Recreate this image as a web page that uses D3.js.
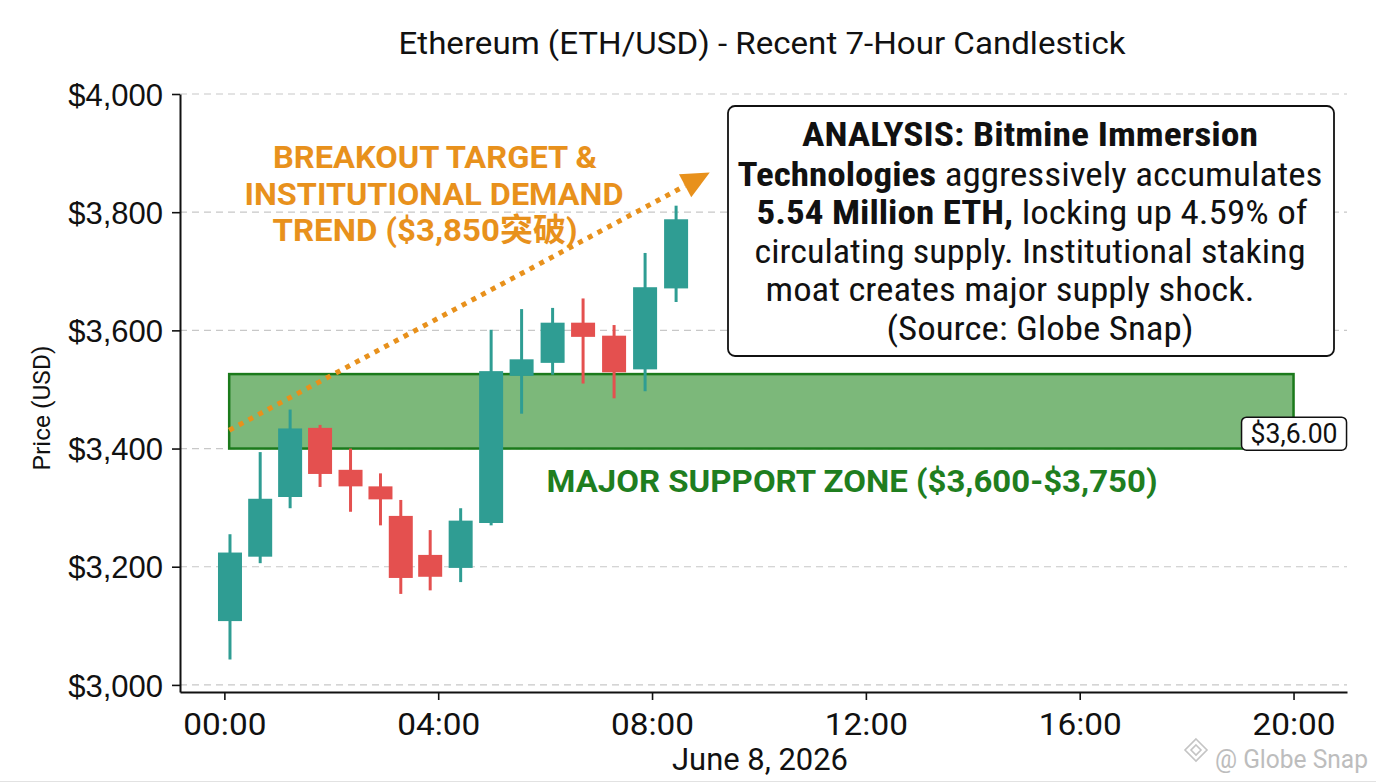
<!DOCTYPE html>
<html><head><meta charset="utf-8">
<script src="https://cdn.jsdelivr.net/npm/d3@7"></script>
<style>
html,body{margin:0;padding:0;background:#fff;}
svg{display:block;}
text{font-family:Roboto,"Noto Sans","Noto Sans CJK SC",sans-serif;}
</style></head>
<body>
<svg id="chart" width="1376" height="783"></svg>
<script>
// ---- data ----
const candleTimes = [0.105, 0.67, 1.23, 1.79, 2.36, 2.92, 3.30, 3.85, 4.42, 4.99, 5.56, 6.14, 6.71, 7.29, 7.87, 8.45];
const opens  = [3108, 3217, 3318, 3435, 3364, 3336, 3286, 3220, 3198, 3274, 3523, 3545, 3613, 3591, 3534, 3671];
const highs  = [3255, 3394, 3466, 3440, 3400, 3358, 3313, 3262, 3299, 3601, 3636, 3638, 3654, 3609, 3731, 3811];
const lows   = [3043, 3206, 3299, 3335, 3293, 3270, 3154, 3160, 3174, 3270, 3459, 3525, 3510, 3485, 3497, 3648];
const closes = [3224, 3315, 3434, 3357, 3336, 3314, 3181, 3183, 3278, 3531, 3551, 3613, 3589, 3529, 3673, 3788];
const yTickValues = [3000, 3200, 3400, 3600, 3800, 4000];
const xTickValues = [0, 4, 8, 12, 16, 20];
const xTickLabels = ["00:00", "04:00", "08:00", "12:00", "16:00", "20:00"];
const zoneTimes = [0.09, 20];
const zonePrices = [3400, 3526];
const trendTimes = [0.09, 9.08];
const trendPrices = [3431, 3867];
const priceTagTime = 20;
const priceTagPrice = 3426;
const priceTagLabel = "$3,6.00";
const titleText = "Ethereum (ETH/USD) - Recent 7-Hour Candlestick";
const xAxisTitle = "June 8, 2026";
const yAxisTitle = "Price (USD)";
const breakoutLines = ["BREAKOUT TARGET &", "INSTITUTIONAL DEMAND", "TREND ($3,850突破)"];
const zoneLabel = "MAJOR SUPPORT ZONE ($3,600-$3,750)";
const analysisLines = [
  [["ANALYSIS: Bitmine Immersion", true]],
  [["Technologies", true], [" aggressively accumulates", false]],
  [["5.54 Million ETH,", true], [" locking up 4.59% of", false]],
  [["circulating supply. Institutional staking", false]],
  [["moat creates major supply shock.", false]],
  [["(Source: Globe Snap)", false]]
];
const watermark = "@ Globe Snap";

// ---- drawing ----
const svg = d3.select("#chart");
const x = d3.scaleLinear().domain([-0.83, 21.0]).range([180, 1347]);
const y = d3.scaleLinear().domain([2988, 4000]).range([692, 94]);

const TEAL = "#2f9d93", RED = "#e4504f", ORANGE = "#e8911c", GREEN_T = "#1f7e1f";

// grid
svg.append("g").selectAll("line").data(yTickValues).join("line")
  .attr("x1", 180).attr("x2", 1347)
  .attr("y1", d => y(d)).attr("y2", d => y(d))
  .attr("stroke", "#c8c8c8").attr("stroke-width", 1.2).attr("stroke-dasharray", "7,5");

// support zone
svg.append("rect")
  .attr("x", x(zoneTimes[0])).attr("width", x(zoneTimes[1]) - x(zoneTimes[0]))
  .attr("y", y(zonePrices[1])).attr("height", y(zonePrices[0]) - y(zonePrices[1]))
  .attr("fill", "#7cb87a").attr("stroke", "#1b7a1b").attr("stroke-width", 2.5);

// trend arrow
const tx0 = x(trendTimes[0]), ty0 = y(trendPrices[0]);
const tx1 = x(trendTimes[1]), ty1 = y(trendPrices[1]);
const ang = Math.atan2(ty1 - ty0, tx1 - tx0);
const headLen = 28, headW = 13;
const bx = tx1 - headLen * Math.cos(ang), by = ty1 - headLen * Math.sin(ang);
svg.append("line")
  .attr("x1", tx0).attr("y1", ty0).attr("x2", bx).attr("y2", by)
  .attr("stroke", ORANGE).attr("stroke-width", 5).attr("stroke-dasharray", "5,6");
svg.append("path")
  .attr("d", `M${tx1},${ty1} L${bx + headW * Math.sin(ang)},${by - headW * Math.cos(ang)} L${bx - headW * Math.sin(ang)},${by + headW * Math.cos(ang)} Z`)
  .attr("fill", ORANGE);

// candles
const candles = candleTimes.map((t, i) => ({t, o: opens[i], h: highs[i], l: lows[i], c: closes[i]}));
const bodyW = 24;
const cg = svg.append("g");
cg.selectAll("line").data(candles).join("line")
  .attr("x1", d => x(d.t)).attr("x2", d => x(d.t))
  .attr("y1", d => y(d.h)).attr("y2", d => y(d.l))
  .attr("stroke", d => d.c >= d.o ? TEAL : RED).attr("stroke-width", 3);
cg.selectAll("rect").data(candles).join("rect")
  .attr("x", d => x(d.t) - bodyW / 2).attr("width", bodyW)
  .attr("y", d => y(Math.max(d.o, d.c)))
  .attr("height", d => Math.max(1, y(Math.min(d.o, d.c)) - y(Math.max(d.o, d.c))))
  .attr("fill", d => d.c >= d.o ? TEAL : RED);

// axes
const yAxis = svg.append("g").attr("transform", "translate(180,0)")
  .call(d3.axisLeft(y).tickValues(yTickValues).tickFormat(d => "$" + d3.format(",")(d)).tickSize(8).tickPadding(9).tickSizeOuter(0));
const xAxis = svg.append("g").attr("transform", "translate(0,692)")
  .call(d3.axisBottom(x).tickValues(xTickValues).tickFormat((d, i) => xTickLabels[i]).tickSize(8).tickPadding(10).tickSizeOuter(0));
[yAxis, xAxis].forEach(a => {
  a.select(".domain").attr("stroke", "#111").attr("stroke-width", 2);
  a.selectAll(".tick line").attr("stroke", "#111").attr("stroke-width", 1.6);
  a.selectAll(".tick text").attr("fill", "#111");
});
yAxis.selectAll(".tick text").attr("dy", "0.36em")
  .style("font-size", "31px").style("font-family", "'Liberation Sans', Arial, sans-serif");
xAxis.selectAll(".tick text").attr("y", 0).attr("dy", 0).attr("transform", "translate(0,43)")
  .style("font-size", "32px").style("font-family", "Roboto, sans-serif")
  .attr("textLength", 83).attr("lengthAdjust", "spacingAndGlyphs");

// titles
svg.append("text").attr("x", 762).attr("y", 54).attr("text-anchor", "middle")
  .style("font-size", "31px").attr("fill", "#111")
  .attr("textLength", 727).attr("lengthAdjust", "spacingAndGlyphs").text(titleText);
svg.append("text").attr("x", 760).attr("y", 770).attr("text-anchor", "middle")
  .style("font-size", "31px").attr("fill", "#111")
  .attr("textLength", 176).attr("lengthAdjust", "spacingAndGlyphs").text(xAxisTitle);
svg.append("text").attr("transform", "translate(50,408) rotate(-90)").attr("text-anchor", "middle")
  .style("font-size", "24px").attr("fill", "#111")
  .attr("textLength", 125).attr("lengthAdjust", "spacingAndGlyphs").text(yAxisTitle);

// breakout annotation
const bkBase = [168, 205, 241];
const bkCenter = [435, 434, 425];
const bkWidth = [324, 379, 305];
breakoutLines.forEach((s, i) => {
  svg.append("text").attr("x", bkCenter[i]).attr("y", bkBase[i]).attr("text-anchor", "middle")
    .style("font-size", "32px").style("font-weight", "bold").style("font-family", "Roboto, 'Noto Sans CJK SC', sans-serif")
    .attr("textLength", bkWidth[i]).attr("lengthAdjust", "spacingAndGlyphs")
    .attr("fill", ORANGE).text(s);
});

// zone label
svg.append("text").attr("x", 852).attr("y", 492).attr("text-anchor", "middle")
  .style("font-size", "32px").style("font-weight", "bold").attr("fill", GREEN_T)
  .attr("textLength", 611).attr("lengthAdjust", "spacingAndGlyphs").text(zoneLabel);

// price tag
const ptx = x(priceTagTime), pty = y(priceTagPrice);
svg.append("rect").attr("x", ptx - 52).attr("y", pty - 16).attr("width", 105).attr("height", 33)
  .attr("rx", 5).attr("fill", "#fff").attr("stroke", "#111").attr("stroke-width", 1.5);
svg.append("text").attr("x", ptx + 0.5).attr("y", pty + 10).attr("text-anchor", "middle")
  .style("font-size", "27px").attr("fill", "#111")
  .attr("textLength", 87).attr("lengthAdjust", "spacingAndGlyphs").text(priceTagLabel);

// analysis box
svg.append("rect").attr("x", 728).attr("y", 106).attr("width", 606).attr("height", 250)
  .attr("rx", 7).attr("fill", "#fff").attr("stroke", "#111").attr("stroke-width", 1.8);
const anBase = [146, 186, 224, 263, 301, 340];
const anCenter = [1030, 1030, 1032, 1030, 1010, 1040];
const anWidth = [456, 585, 551, 551, 489, 307];
analysisLines.forEach((parts, i) => {
  const t = svg.append("text").attr("x", anCenter[i]).attr("y", anBase[i]).attr("text-anchor", "middle")
    .style("font-size", "34px").attr("fill", "#111")
    .style("font-family", "'Liberation Sans Narrow', 'Roboto Condensed', Roboto, sans-serif")
    .attr("textLength", anWidth[i]).attr("lengthAdjust", "spacingAndGlyphs");
  parts.forEach(([s, b]) => t.append("tspan").style("font-weight", b ? "bold" : "normal").text(s));
});

// watermark
const wm = svg.append("g").attr("fill", "none").attr("stroke", "#c4c4c4").attr("stroke-width", 1.6);
wm.append("path").attr("d", "M1196,739 L1207,750 L1196,761 L1185,750 Z");
wm.append("path").attr("d", "M1196,745 L1201,750 L1196,755 L1191,750 Z");
svg.append("text").attr("x", 1368).attr("y", 768).attr("text-anchor", "end")
  .style("font-size", "25px").attr("fill", "#bdbdbd")
  .attr("textLength", 153).attr("lengthAdjust", "spacingAndGlyphs").text(watermark);
svg.append("line").attr("x1", 0).attr("x2", 1376).attr("y1", 781.5).attr("y2", 781.5)
  .attr("stroke", "#e2e2e2").attr("stroke-width", 1);
</script>
</body></html>
